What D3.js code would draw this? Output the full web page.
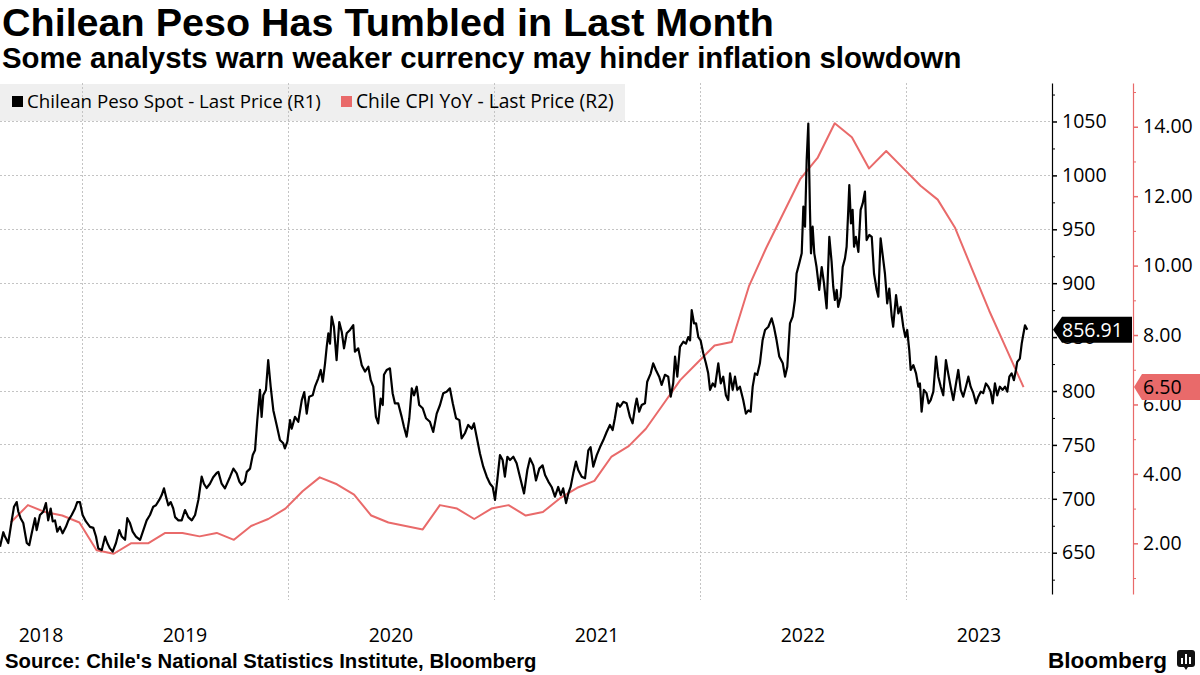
<!DOCTYPE html>
<html><head><meta charset="utf-8">
<script src="https://cdn.jsdelivr.net/npm/d3@7"></script>
<style>body{margin:0;background:#fff;} svg{display:block;}</style>
</head><body>
<svg id="c" width="1200" height="675"></svg>
<script>
// ---- DATA ----
// Chilean peso spot (CLP per USD), dates as decimal years
const pesoT = [
2018.602,2018.618,2018.626,2018.642,2018.659,2018.670,2018.683,2018.691,2018.702,2018.715,2018.732,2018.744,2018.756,2018.772,2018.780,2018.796,2018.812,2018.825,2018.836,2018.848,2018.858,2018.869,2018.880,2018.893,2018.906,2018.922,2018.934,2018.950,2018.966,2018.977,2018.990,
2019.003,2019.019,2019.039,2019.055,2019.068,2019.079,2019.096,2019.112,2019.123,2019.136,2019.149,2019.165,2019.181,2019.193,2019.209,2019.220,2019.233,2019.246,2019.262,2019.282,2019.298,2019.314,2019.330,2019.346,2019.359,2019.375,2019.387,2019.398,2019.408,2019.419,2019.431,2019.443,2019.452,2019.468,2019.484,2019.500,2019.516,2019.533,2019.549,2019.565,2019.581,2019.592,2019.605,2019.621,2019.637,2019.654,2019.662,2019.678,2019.694,2019.719,2019.735,2019.751,2019.764,2019.775,2019.791,2019.800,2019.816,2019.829,2019.840,2019.851,2019.864,2019.872,2019.880,2019.893,2019.904,2019.916,2019.929,2019.945,2019.961,2019.977,2019.985,2019.997,
2020.010,2020.018,2020.034,2020.050,2020.067,2020.079,2020.091,2020.103,2020.120,2020.131,2020.147,2020.159,2020.169,2020.180,2020.188,2020.196,2020.204,2020.212,2020.223,2020.236,2020.249,2020.261,2020.272,2020.285,2020.301,2020.317,2020.325,2020.341,2020.358,2020.374,2020.390,2020.402,2020.414,2020.427,2020.438,2020.450,2020.460,2020.466,2020.479,2020.495,2020.508,2020.519,2020.535,2020.552,2020.563,2020.576,2020.589,2020.601,2020.612,2020.625,2020.637,2020.654,2020.670,2020.689,2020.705,2020.722,2020.738,2020.754,2020.770,2020.786,2020.800,2020.816,2020.832,2020.843,2020.859,2020.875,2020.892,2020.903,2020.919,2020.932,2020.948,2020.965,2020.981,2020.994,
2021.005,2021.016,2021.029,2021.042,2021.053,2021.065,2021.078,2021.094,2021.110,2021.126,2021.146,2021.162,2021.175,2021.191,2021.204,2021.220,2021.236,2021.248,2021.264,2021.280,2021.296,2021.312,2021.324,2021.336,2021.350,2021.361,2021.372,2021.385,2021.398,2021.409,2021.426,2021.442,2021.458,2021.469,2021.482,2021.499,2021.515,2021.531,2021.547,2021.563,2021.576,2021.587,2021.599,2021.612,2021.628,2021.644,2021.660,2021.673,2021.685,2021.693,2021.705,2021.717,2021.733,2021.744,2021.761,2021.773,2021.786,2021.802,2021.814,2021.830,2021.846,2021.858,2021.870,2021.879,2021.890,2021.903,2021.919,2021.932,2021.943,2021.952,2021.960,2021.971,2021.981,2021.992,
2022.003,2022.016,2022.029,2022.040,2022.049,2022.062,2022.073,2022.089,2022.101,2022.113,2022.126,2022.137,2022.146,2022.159,2022.170,2022.181,2022.194,2022.210,2022.223,2022.235,2022.246,2022.256,2022.267,2022.278,2022.291,2022.304,2022.316,2022.332,2022.348,2022.359,2022.372,2022.385,2022.402,2022.413,2022.424,2022.437,2022.450,2022.461,2022.469,2022.482,2022.494,2022.502,2022.510,2022.518,2022.526,2022.534,2022.539,2022.547,2022.555,2022.566,2022.579,2022.591,2022.602,2022.615,2022.628,2022.639,2022.647,2022.655,2022.664,2022.671,2022.683,2022.693,2022.704,2022.712,2022.720,2022.725,2022.733,2022.741,2022.748,2022.757,2022.769,2022.780,2022.790,2022.801,2022.809,2022.822,2022.834,2022.845,2022.858,2022.866,2022.877,2022.890,2022.898,2022.909,2022.919,2022.931,2022.938,2022.952,2022.963,2022.974,2022.987,2022.997,
2023.006,2023.016,2023.023,2023.036,2023.049,2023.060,2023.068,2023.076,2023.087,2023.100,2023.110,2023.120,2023.133,2023.146,2023.157,2023.169,2023.181,2023.194,2023.205,2023.217,2023.230,2023.243,2023.254,2023.266,2023.278,2023.291,2023.303,2023.314,2023.327,2023.340,2023.351,2023.363,2023.375,2023.388,2023.400,2023.411,2023.421,2023.432,2023.443,2023.456,2023.469,2023.481,2023.492,2023.502,2023.513,2023.524,2023.534,2023.540,2023.553,2023.562,2023.569,2023.578,2023.589
];
const pesoV = [
655.6,669,665,659,680,692.7,697,688,682,677.5,659,657,668,682,671,685,688,696,680,691,679,680,669.5,674,668,674,680,685,691,697,697,
685,679,674,673,665,654,652.5,665,659,654,651,659,671,665,662,682,677.5,669.5,665,662,671,680,685,692.7,694,699,703.5,709.7,702,694,697,691,683,680,680,689.6,683,680,685,699,720.5,714,710,714,720,724,725,714,709.7,720.5,728,723.6,716,713,716,725,728,740.6,745,773,801,776,796,801,828.7,804,782,768.5,754.5,751.5,746.8,753,
773,765,776,771.5,791.6,799,779,794.7,796,804,811.8,819.5,808.6,825.7,841,853.5,844,869,859.6,828.7,864,855,839.6,853.5,856.6,861,836.5,839.6,824,818,822.5,810,804,776,770,793,787,815,819.5,821,798,788.6,788.6,776,766.9,757.6,774.7,802.5,796,804,787,784,774.7,771.5,762,779,787,798,799.4,802.5,788.6,774.7,773,756,760.8,768.5,765,770,754.5,742,729.8,720.5,714,711,
699,717,740.5,736,720.5,739,736,739,733,720.5,705,726.7,737.5,731,717,728,731,722,716,711,702,711,703.5,709.7,696,705,711,723.6,734.5,726.7,720.5,719,745,748,729.8,740.5,748,754.5,762,768.5,763.8,774.7,788.6,785.4,790,788.6,776,770,785.4,793,780.8,787,788.6,808.6,816.4,825.7,819.5,813.3,805.6,815,813.3,794.7,807,832,813.3,841,845.7,844,850,847,875,862.8,862.8,850,
847,835,825.7,816.4,801,807,804,825.7,807,813.3,796,791.6,816.4,801,813.3,801,804,791.6,779,782,780.8,804,816.4,815,825.7,847,856.6,859.6,867.4,859.6,847,832,825.7,813.3,822.5,862.8,869,884.4,909,918.4,927.7,971,952.4,1014,1048,968,927.7,952.4,927.7,915,893.7,915,900,876.7,943,920,896.7,884.4,893.7,878,887.5,915,923,933.8,968,991,955.5,968,933.8,943,929,968,974,985,940,944.7,943,909,893.7,887.5,941.6,921.5,909,881.3,895,869,859.6,889,872,878,859.6,850,
856.6,838,819.5,824,816.4,804,807,780.8,801,798,788.6,791.6,799.4,832,813.3,804,796,828.7,816.4,804,791.6,807,819.5,801,794.7,804,813.3,804,798,788.6,794.7,799.4,798,807,804,799.4,788.6,807,796,804,801,804,799.4,813.3,816.4,810,819.5,827,830,844,851.7,861,856.91
];
// Chile CPI YoY (%), monthly
const cpiMonths = [
"2018-08","2018-09","2018-10","2018-11","2018-12",
"2019-01","2019-02","2019-03","2019-04","2019-05","2019-06","2019-07","2019-08","2019-09","2019-10","2019-11","2019-12",
"2020-01","2020-02","2020-03","2020-04","2020-05","2020-06","2020-07","2020-08","2020-09","2020-10","2020-11","2020-12",
"2021-01","2021-02","2021-03","2021-04","2021-05","2021-06","2021-07","2021-08","2021-09","2021-10","2021-11","2021-12",
"2022-01","2022-02","2022-03","2022-04","2022-05","2022-06","2022-07","2022-08","2022-09","2022-10","2022-11","2022-12",
"2023-01","2023-02","2023-03","2023-04","2023-05","2023-06","2023-07"
];
const cpiV = [
2.6,3.1,2.9,2.8,2.6,
1.8,1.7,2.0,2.0,2.3,2.3,2.2,2.3,2.1,2.5,2.7,3.0,
3.5,3.9,3.7,3.4,2.8,2.6,2.5,2.4,3.1,3.0,2.7,3.0,
3.1,2.8,2.9,3.3,3.6,3.8,4.5,4.8,5.3,6.0,6.7,7.2,
7.7,7.8,9.4,10.5,11.5,12.5,13.1,14.1,13.7,12.8,13.3,12.8,
12.3,11.9,11.1,9.9,8.7,7.6,6.5
];
const yearTicks = [2019,2020,2021,2022,2023];
const yearLabels = ["2018","2019","2020","2021","2022","2023"];
const leftTicks = [650,700,750,800,850,900,950,1000,1050];
const leftMinor = [625,675,725,775,825,875,925,975,1025,1075];
const rightTicks = [2,4,6,8,10,12,14];
const rightMinor = [1,3,5,7,9,11,13,15];
const lastPeso = 856.91, lastCpi = 6.50;
const legendNames = ["Chilean Peso Spot - Last Price (R1)","Chile CPI YoY - Last Price (R2)"];

// ---- STYLE / LAYOUT ----
const RED = "#e96a6a";
const tickFont = "'Open Sans', 'Noto Sans', sans-serif";
const svg = d3.select("#c");
const plotT = 83, plotB = 594, axL = 1052, axR = 1133;
const x = d3.scaleLinear().domain([2018.602, 2023.709]).range([0, axL]);
const yL = d3.scaleLinear().domain([611.7, 1085.7]).range([plotB, plotT]);
const yR = d3.scaleLinear().domain([0.54, 15.26]).range([plotB, plotT]);

function fit(sel, w){
  const len = sel.node().getComputedTextLength();
  sel.attr("font-size", parseFloat(sel.attr("font-size")) * w / len);
}

// Title / subtitle
const title = svg.append("text").attr("x",2).attr("y",36)
  .attr("font-family","'Liberation Sans', Arial, sans-serif").attr("font-weight","bold")
  .attr("font-size",32).attr("fill","#000").text("Chilean Peso Has Tumbled in Last Month");
fit(title, 772);
const sub = svg.append("text").attr("x",2).attr("y",68)
  .attr("font-family","'Liberation Sans', Arial, sans-serif").attr("font-weight","bold")
  .attr("font-size",24).attr("fill","#000").text("Some analysts warn weaker currency may hinder inflation slowdown");
fit(sub, 960);

// Legend background
svg.append("rect").attr("x",0).attr("y",84).attr("width",625).attr("height",37).attr("fill","#efefef");

// Horizontal gridlines
svg.append("g").selectAll("line").data(leftTicks).join("line")
  .attr("x1",0).attr("x2",axL).attr("y1",d=>yL(d)).attr("y2",d=>yL(d))
  .attr("stroke","#c4c4c4").attr("stroke-dasharray","2,2").attr("stroke-width",1).attr("shape-rendering","crispEdges");
// Vertical gridlines
svg.append("g").selectAll("line").data(yearTicks).join("line")
  .attr("x1",d=>Math.round(x(d))+0.5).attr("x2",d=>Math.round(x(d))+0.5).attr("y1",plotT).attr("y2",600)
  .attr("stroke","#c4c4c4").attr("stroke-dasharray","2,2").attr("stroke-width",1);

// Legend content
const leg = svg.append("g");
leg.append("rect").attr("x",12).attr("y",96).attr("width",11).attr("height",11).attr("fill","#000");
const l1 = leg.append("text").attr("x",27).attr("y",108).attr("font-family",tickFont).attr("font-size",16).attr("fill","#000").text(legendNames[0]);
fit(l1, 294);
leg.append("rect").attr("x",341).attr("y",96).attr("width",11).attr("height",11).attr("fill",RED);
const l2 = leg.append("text").attr("x",356).attr("y",108).attr("font-family",tickFont).attr("font-size",16).attr("fill","#000").text(legendNames[1]);
fit(l2, 258);

// Lines
const cpiData = cpiMonths.map((m,i)=>{const [yy,mm]=m.split("-").map(Number); return {t: yy + (mm-1+0.85)/12, v: cpiV[i]};});
const pesoData = pesoT.map((t,i)=>({t, v: pesoV[i]}));
svg.append("path").datum(cpiData)
  .attr("d", d3.line().x(d=>x(d.t)).y(d=>yR(d.v)))
  .attr("fill","none").attr("stroke",RED).attr("stroke-width",2).attr("stroke-linejoin","round");
svg.append("path").datum(pesoData)
  .attr("d", d3.line().x(d=>x(d.t)).y(d=>yL(d.v)))
  .attr("fill","none").attr("stroke","#000").attr("stroke-width",2.2).attr("stroke-linejoin","round");

// Axes
function styleAxis(g, color){
  g.select(".domain").attr("stroke",color).attr("stroke-width",1.2);
  g.selectAll(".tick line").attr("stroke",color).attr("stroke-width",1.5);
  g.selectAll(".tick text").attr("fill","#000").attr("font-family",tickFont).attr("font-size",19.5);
}
const gL = svg.append("g").attr("transform",`translate(${axL},0)`);
gL.call(d3.axisRight(yL).tickValues(leftTicks).tickSize(5).tickSizeOuter(0).tickPadding(5).tickFormat(d3.format("d")));
styleAxis(gL, "#000");
const gLm = svg.append("g").attr("transform",`translate(${axL},0)`);
gLm.call(d3.axisRight(yL).tickValues(leftMinor).tickSize(3).tickSizeOuter(0).tickFormat(""));
gLm.select(".domain").remove(); gLm.selectAll(".tick line").attr("stroke","#000");

const gR = svg.append("g").attr("transform",`translate(${axR},0)`);
gR.call(d3.axisRight(yR).tickValues(rightTicks).tickSize(5).tickSizeOuter(0).tickPadding(5).tickFormat(d3.format(".2f")));
styleAxis(gR, RED);
const gRm = svg.append("g").attr("transform",`translate(${axR},0)`);
gRm.call(d3.axisRight(yR).tickValues(rightMinor).tickSize(3).tickSizeOuter(0).tickFormat(""));
gRm.select(".domain").remove(); gRm.selectAll(".tick line").attr("stroke",RED);

// Last-value labels (drawn over the tick labels, as in the reference)
const yp = yL(lastPeso);
svg.append("path").attr("d",`M${axL+1},${yp} L${axL+10},${yp-13} L${axR-1},${yp-13} L${axR-1},${yp+13} L${axL+10},${yp+13} Z`).attr("fill","#000");
svg.append("text").attr("x",axL+10).attr("y",yp+7).attr("font-family",tickFont).attr("font-size",19.5).attr("fill","#fff").text(d3.format(".2f")(lastPeso));
const yc = yR(lastCpi);
svg.append("path").attr("d",`M${axR+1},${yc} L${axR+9},${yc-13} L1200,${yc-13} L1200,${yc+13} L${axR+9},${yc+13} Z`).attr("fill",RED);
svg.append("text").attr("x",axR+10).attr("y",yc+7).attr("font-family",tickFont).attr("font-size",19.5).attr("fill","#000").text(d3.format(".2f")(lastCpi));

// X axis labels (centered on visible part of each year)
const [d0,d1] = x.domain();
const bounds = [d0, ...yearTicks, d1];
svg.append("g").selectAll("text").data(yearLabels).join("text")
  .attr("x",(d,i)=>x((bounds[i]+bounds[i+1])/2)).attr("y",642)
  .attr("text-anchor","middle").attr("font-family",tickFont).attr("font-size",19.5).attr("fill","#000").text(d=>d);

// Footer
const src = svg.append("text").attr("x",5).attr("y",668)
  .attr("font-family","'Liberation Sans', Arial, sans-serif").attr("font-weight","bold")
  .attr("font-size",17).attr("fill","#000").text("Source: Chile's National Statistics Institute, Bloomberg");
fit(src, 532);
const bb = svg.append("text").attr("x",1048).attr("y",668)
  .attr("font-family","'Liberation Sans', Arial, sans-serif").attr("font-weight","bold")
  .attr("font-size",21).attr("fill","#000").text("Bloomberg");
fit(bb, 119);
const ic = svg.append("g").attr("transform","translate(1177,650)");
ic.append("rect").attr("x",0).attr("y",0).attr("width",18).attr("height",17).attr("rx",3).attr("fill","#111");
ic.append("path").attr("d","M7,17 L9,20 L11,17 Z").attr("fill","#111");
ic.append("rect").attr("x",4).attr("y",8).attr("width",2).attr("height",6).attr("fill","#fff");
ic.append("rect").attr("x",8).attr("y",4).attr("width",2).attr("height",10).attr("fill","#fff");
ic.append("rect").attr("x",12).attr("y",7).attr("width",2).attr("height",7).attr("fill","#fff");
</script>
</body></html>
